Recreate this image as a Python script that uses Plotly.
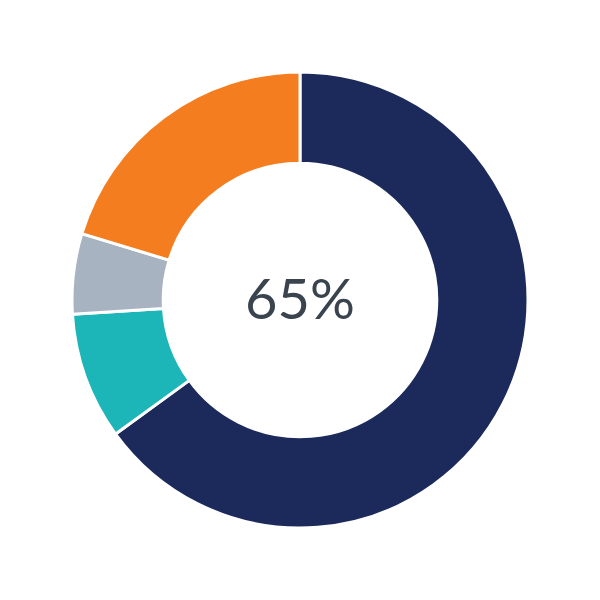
import plotly.graph_objects as go

labels = ['A', 'B', 'C', 'D']
values = [65, 9, 5.7, 20.3]
colors = ['#1b2a5b', '#1cb5b8', '#a8b3c2', '#f47d20']
center_text = '65%'

fig = go.Figure(go.Pie(
    labels=labels,
    values=values,
    hole=0.6,
    sort=False,
    direction='clockwise',
    rotation=0,
    textinfo='none',
    hoverinfo='skip',
    marker=dict(colors=colors, line=dict(color='white', width=3))
))

# page has ~8px body offset, so shift the pie up/left a bit
fig.update_layout(
    width=600,
    height=600,
    margin=dict(l=64, r=80, t=64, b=80),
    showlegend=False,
    paper_bgcolor='white',
    annotations=[dict(
        text=center_text,
        x=0.5, y=0.5,
        xref='paper', yref='paper',
        yshift=3,
        showarrow=False,
        font=dict(family='Lato', size=56, color='#3a444e')
    )]
)

fig.write_html('out.html')
